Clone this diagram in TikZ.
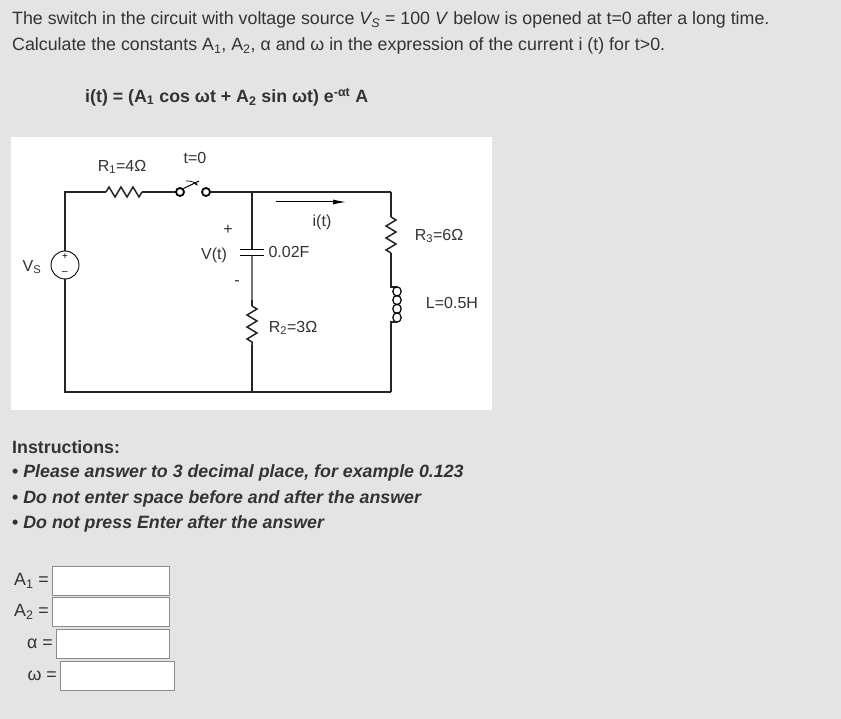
\documentclass[tikz,border=0pt]{standalone}
\usepackage{fontspec}
\setmainfont{Liberation Sans}
\usetikzlibrary{decorations.pathmorphing,arrows.meta}
\definecolor{bg}{HTML}{E3E4E3}
\definecolor{tx}{HTML}{333333}
\begin{document}
\begin{tikzpicture}[x=1pt,y=-1pt,
  txt/.style={anchor=west,inner sep=0,font=\fontsize{17.8}{20}\selectfont,text=tx},
  lbl/.style={inner sep=0,font=\fontsize{16}{18}\selectfont,text=tx},
  wire/.style={line width=1.5pt,color=black!85},
  zz/.style={decorate,decoration={zigzag,segment length=12pt,amplitude=5pt}},
  inbox/.style={draw=black!45,fill=white,line width=0.8pt,minimum height=29pt,anchor=north west,inner sep=0}]
\fill[bg] (0,0) rectangle (841,719);
\useasboundingbox (0,0) rectangle (841,719);
\node[txt] (l1) at (12,20) {The switch in the circuit with voltage source \textit{V\textsubscript{S}} = 100 \textit{V} below is opened at t=0 after a long time.};
\node[txt] (l2) at (12,46) {Calculate the constants A\textsubscript{1}, A\textsubscript{2}, α and ω in the expression of the current i (t) for t>0.};
\node[txt,font=\fontsize{17.8}{20}\selectfont\bfseries] (f) at (85,97) {i(t) = (A\textsubscript{1} cos ωt + A\textsubscript{2} sin ωt) e\textsuperscript{-αt} A};
% panel
\fill[white] (11,137) rectangle (492,410);
\coordinate (tl) at (65,192); \coordinate (bl) at (65,392);
\coordinate (tm) at (252,192); \coordinate (bm) at (252,392);
\coordinate (tr) at (391,192); \coordinate (br) at (391,392);
% left branch with source
\node[draw,circle,minimum size=28pt,inner sep=0,line width=0.9pt] (vs) at (65,265) {};
\node[font=\fontsize{10}{10}\selectfont,inner sep=0] (vp) at (65,257) {+};
\node[font=\fontsize{10}{10}\selectfont,inner sep=0] (vm) at (65,273) {--};
\draw[wire] (vs.north) -- (tl) -- (106,192);
\draw[wire,zz] (106,192) -- (142,192);
\draw[wire] (142,192) -- (176,192);
\node[draw,circle,line width=1.8pt,minimum size=8pt,inner sep=0] (s1) at (180,192) {};
\node[draw,circle,line width=1.8pt,minimum size=8pt,inner sep=0] (s2) at (206,192) {};
\draw[line width=1pt] (s1.north east) -- (199,181);
\draw[line width=0.7pt,-{Latex[length=3pt]}] (186,181) to[bend left=25] (198,186);
\draw[wire] (s2.east) -- (tm) -- (tr);
\draw[wire] (vs.south) -- (bl) -- (br);
% middle branch
\draw[wire] (tm) -- (252,249);
\draw[line width=1pt] (240,249.5) -- (264,249.5);
\draw[line width=1pt] (240,255.5) -- (264,255.5);
\draw[wire,black!55] (252,256) -- (252,300);
\draw[wire] (252,300) -- (252,306);
\draw[wire,zz] (252,306) -- (252,345);
\draw[wire] (252,345) -- (bm);
% right branch
\draw[wire] (tr) -- (391,217);
\draw[wire,zz] (391,217) -- (391,253);
\draw[wire] (391,253) -- (391,287) -- (397,287);
\foreach \k in {0,1,2,3}{
  \draw[line width=1.2pt] (397,{291.4+\k*8.7}) ellipse[x radius=4.2pt,y radius=4.6pt];}
\draw[wire] (397,322) -- (391,322) -- (br);
% arrow
\draw[line width=1pt,-{Latex[length=13pt,width=5pt]}] (276,202) -- (346,202);
% labels
\node[lbl] (r1) at (122,167) {R\textsubscript{1}=4Ω};
\node[lbl] (t0) at (195,158) {t=0};
\node[lbl] (it) at (322,222) {i(t)};
\node[lbl] (cp) at (228,230) {+};
\node[lbl] (vt) at (214,255) {V(t)};
\node[lbl] (cf) at (289,252) {0.02F};
\node[lbl] (cm) at (237,283) {-};
\node[lbl] (r2) at (293,328) {R\textsubscript{2}=3Ω};
\node[lbl] (r3) at (439,236) {R\textsubscript{3}=6Ω};
\node[lbl] (ll) at (452,303) {L=0.5H};
\node[lbl] (vsl) at (32,267) {V\textsubscript{S}};
% instructions
\node[txt,font=\fontsize{17.8}{20}\selectfont\bfseries] (ins) at (12,447) {Instructions:};
\node[txt,font=\fontsize{17.8}{20}\selectfont\bfseries\itshape] (b1) at (12,473) {\upshape•\itshape\ Please answer to 3 decimal place, for example 0.123};
\node[txt,font=\fontsize{17.8}{20}\selectfont\bfseries\itshape] (b2) at (12,499) {\upshape•\itshape\ Do not enter space before and after the answer};
\node[txt,font=\fontsize{17.8}{20}\selectfont\bfseries\itshape] (b3) at (12,524) {\upshape•\itshape\ Do not press Enter after the answer};
% inputs
\node[inbox,minimum width=117pt] (in1) at (52,566) {};
\node[inbox,minimum width=117pt] (in2) at (52,597) {};
\node[inbox,minimum width=113pt] (in3) at (56,629) {};
\node[inbox,minimum width=114pt] (in4) at (60,661) {};
\node[txt,anchor=east] (a1) at (49,581) {A\textsubscript{1} =};
\node[txt,anchor=east] (a2) at (49,612) {A\textsubscript{2} =};
\node[txt,anchor=east] (a3) at (53,644) {α =};
\node[txt,anchor=east] (a4) at (57,676) {ω =};
\end{tikzpicture}
\end{document}
